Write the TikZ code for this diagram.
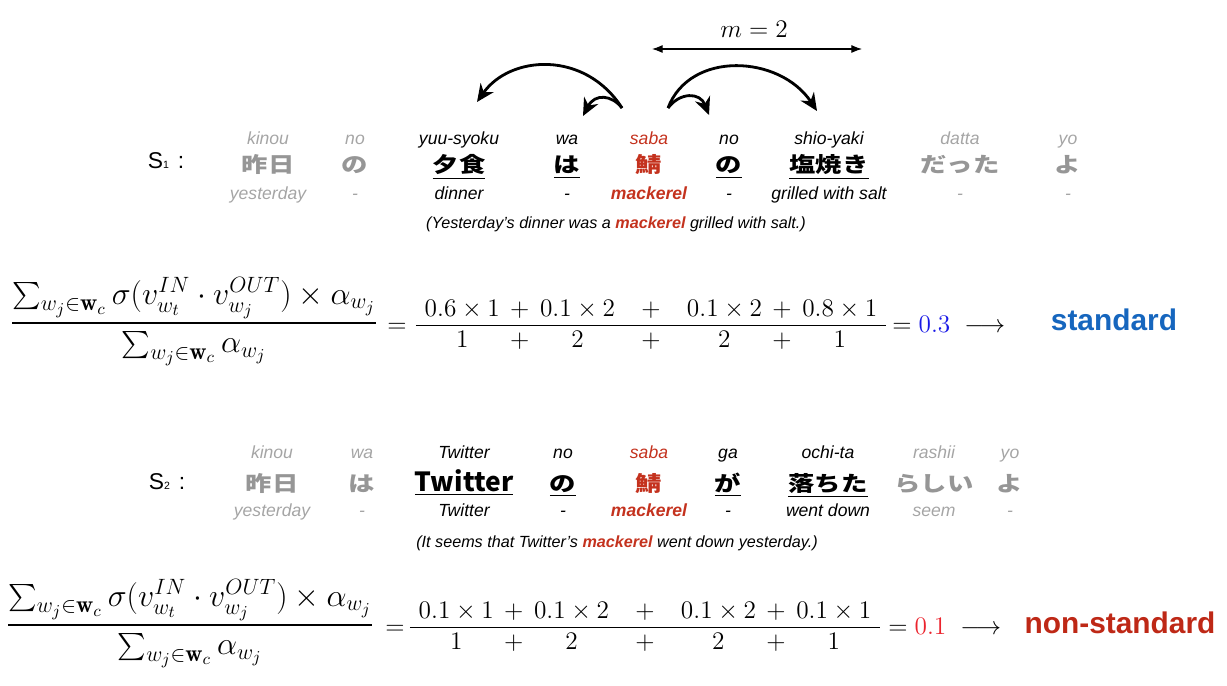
\documentclass[tikz,border=0pt]{standalone}
\usepackage{amsmath}
\usepackage{fontspec}
\setsansfont{Liberation Sans}
\newfontfamily\jp[FakeStretch=1.25]{Noto Sans CJK JP}
\newfontfamily\jplatin{Noto Sans CJK JP}
\definecolor{WordGray}{RGB}{150, 150, 150}
\definecolor{FadeGray}{RGB}{165, 165, 165}
\definecolor{SabaRed}{RGB}{196, 50, 30}
\definecolor{StdBlue}{RGB}{22, 102, 190}
\definecolor{NonRed}{RGB}{190, 40, 22}
\definecolor{ValBlue}{RGB}{25, 25, 230}
\definecolor{ValRed}{RGB}{235, 35, 45}
\usetikzlibrary{arrows.meta}
\newcommand{\wsum}{\mathop{\vcenter{\hbox{\scalebox{0.85}{$\textstyle\sum$}}}}\nolimits}

\begin{document}
\begin{tikzpicture}[x=0.02cm, y=-0.02cm,
    every node/.style={inner sep=0pt, anchor=base},
    roma/.style={font=\sffamily\itshape\fontsize{10}{12}\selectfont},
    word/.style={font=\jp\bfseries\fontsize{12}{14}\selectfont},
    bigword/.style={font=\jplatin\bfseries\fontsize{15}{17}\selectfont},
    faded/.style={text=FadeGray},
    fadedword/.style={text=WordGray},
    key/.style={text=SabaRed},
    trans/.style={font=\sffamily\itshape\fontsize{9.2}{11}\selectfont},
    label/.style={font=\sffamily\fontsize{13}{15}\selectfont},
    lhs/.style={font=\fontsize{18.5}{22}\selectfont},
    rhs/.style={font=\fontsize{14.5}{17.5}\selectfont},
    val/.style={font=\fontsize{15.5}{18}\selectfont, anchor=base west},
    verdict/.style={font=\sffamily\bfseries\fontsize{17}{20}\selectfont},
    arc/.style={line width=1.6pt, -{Stealth[length=10pt, width=9pt]}},
    span/.style={line width=0.6pt, {Latex[length=6pt, width=4.5pt]}-{Latex[length=6pt, width=4.5pt]}}]
    \useasboundingbox (0,0) rectangle (1227,686);

    % sentence 1
    \node[label] (s1) at (166,168) {S{\fontsize{6}{6}\selectfont 1}\hspace{5pt}:};
    \node[roma, faded] (r11) at (268,145) {kinou};
    \node[roma, faded] (r12) at (355,145) {no};
    \node[roma] (r13) at (459,145) {yuu-syoku};
    \node[roma] (r14) at (567,145) {wa};
    \node[roma, key] (r15) at (649,145) {saba};
    \node[roma] (r16) at (729,145) {no};
    \node[roma] (r17) at (829,145) {shio-yaki};
    \node[roma, faded] (r18) at (960,145) {datta};
    \node[roma, faded] (r19) at (1068,145) {yo};

    \node[word, fadedword] (k11) at (268,173) {昨日};
    \node[word, fadedword] (k12) at (355,173) {の};
    \node[word] (k13) at (459,173) {\underline{夕食}};
    \node[word] (k14) at (567,173) {\underline{は}};
    \node[word, key] (k15) at (649,173) {鯖};
    \node[word] (k16) at (729,173) {\underline{の}};
    \node[word] (k17) at (829,173) {\underline{塩焼き}};
    \node[word, fadedword] (k18) at (960,173) {だった};
    \node[word, fadedword] (k19) at (1068,173) {よ};

    \node[roma, faded] (g11) at (268,199) {yesterday};
    \node[roma, faded] (g12) at (355,199) {-};
    \node[roma] (g13) at (459,199) {dinner};
    \node[roma] (g14) at (567,199) {-};
    \node[roma, key] (g15) at (649,199) {\bfseries mackerel};
    \node[roma] (g16) at (729,199) {-};
    \node[roma] (g17) at (829,199) {grilled with salt};
    \node[roma, faded] (g18) at (960,199) {-};
    \node[roma, faded] (g19) at (1068,199) {-};

    \node[trans] (t1) at (616,228) {(Yesterday's dinner was a \textcolor{SabaRed}{\bfseries mackerel} grilled with salt.)};

    % context window
    \node[font=\fontsize{15}{18}\selectfont] (win) at (754,38) {$m=2$};
    \draw[span] ([shift={(-102,11)}]win.base) -- ([shift={(108,11)}]win.base);
    \draw[arc] ([shift={(-27,-37)}]r15.base) .. controls +(-37,-58) and +(33,-47) .. ([shift={(18,-43)}]r13.base);
    \draw[arc] ([shift={(-27,-37)}]r15.base) .. controls +(-10,-13) and +(12,-23) .. ([shift={(16,-29)}]r14.base);
    \draw[arc] ([shift={(19,-37)}]r15.base) .. controls +(12,-16) and +(-9,-23) .. ([shift={(-20,-30)}]r16.base);
    \draw[arc] ([shift={(19,-37)}]r15.base) .. controls +(22,-58) and +(-37,-56) .. ([shift={(-12,-34)}]r17.base);

    % score 1
    \node[lhs] (lhs1) at (194,331) {\scalebox{1.05}{$\displaystyle\frac{\wsum_{w_j\in\mathbf{w}_c}\sigma(v^{IN}_{w_t}\cdot v^{OUT}_{w_j})\times\alpha_{w_j}}{\wsum_{w_j\in\mathbf{w}_c}\alpha_{w_j}}$}};
    \node[rhs] (eq1) at (397,332) {$=$};
    \node[rhs] (rhs1) at (651,332) {$\begin{array}{c@{\hspace{6pt}}c@{\hspace{6pt}}c@{\hspace{15pt}}c@{\hspace{15pt}}c@{\hspace{6pt}}c@{\hspace{6pt}}c}
        0.6\times 1 & + & 0.1\times 2 & + & 0.1\times 2 & + & 0.8\times 1\\ \hline
        1 & + & 2 & + & 2 & + & 1
      \end{array}$};
    \node[val] (val1) at (892,332) {$={\color{ValBlue}0.3}\;\longrightarrow$};
    \node[verdict, text=StdBlue] (res1) at (1114,330) {standard};

    % sentence 2
    \node[label] (s2) at (167,489) {S{\fontsize{6}{6}\selectfont 2}\hspace{5pt}:};
    \node[roma, faded] (r21) at (272,458) {kinou};
    \node[roma, faded] (r22) at (362,458) {wa};
    \node[roma] (r23) at (464,458) {Twitter};
    \node[roma] (r24) at (563,458) {no};
    \node[roma, key] (r25) at (649,458) {saba};
    \node[roma] (r26) at (728,458) {ga};
    \node[roma] (r27) at (828,458) {ochi-ta};
    \node[roma, faded] (r28) at (934,458) {rashii};
    \node[roma, faded] (r29) at (1010,458) {yo};

    \node[word, fadedword] (k21) at (272,491) {昨日};
    \node[word, fadedword] (k22) at (362,491) {は};
    \node[bigword] (k23) at (464,491) {\underline{Twitter}};
    \node[word] (k24) at (563,491) {\underline{の}};
    \node[word, key] (k25) at (649,491) {鯖};
    \node[word] (k26) at (728,491) {\underline{が}};
    \node[word] (k27) at (828,491) {\underline{落ちた}};
    \node[word, fadedword] (k28) at (934,491) {らしい};
    \node[word, fadedword] (k29) at (1010,491) {よ};

    \node[roma, faded] (g21) at (272,516) {yesterday};
    \node[roma, faded] (g22) at (362,516) {-};
    \node[roma] (g23) at (464,516) {Twitter};
    \node[roma] (g24) at (563,516) {-};
    \node[roma, key] (g25) at (649,516) {\bfseries mackerel};
    \node[roma] (g26) at (728,516) {-};
    \node[roma] (g27) at (828,516) {went down};
    \node[roma, faded] (g28) at (934,516) {seem};
    \node[roma, faded] (g29) at (1010,516) {-};

    \node[trans] (t2) at (617,547) {(It seems that Twitter's \textcolor{SabaRed}{\bfseries mackerel} went down yesterday.)};

    % score 2
    \node[lhs] (lhs2) at (190,633) {\scalebox{1.05}{$\displaystyle\frac{\wsum_{w_j\in\mathbf{w}_c}\sigma(v^{IN}_{w_t}\cdot v^{OUT}_{w_j})\times\alpha_{w_j}}{\wsum_{w_j\in\mathbf{w}_c}\alpha_{w_j}}$}};
    \node[rhs] (eq2) at (395,634) {$=$};
    \node[rhs] (rhs2) at (645,634) {$\begin{array}{c@{\hspace{6pt}}c@{\hspace{6pt}}c@{\hspace{15pt}}c@{\hspace{15pt}}c@{\hspace{6pt}}c@{\hspace{6pt}}c}
        0.1\times 1 & + & 0.1\times 2 & + & 0.1\times 2 & + & 0.1\times 1\\ \hline
        1 & + & 2 & + & 2 & + & 1
      \end{array}$};
    \node[val] (val2) at (888,634) {$={\color{ValRed}0.1}\;\longrightarrow$};
    \node[verdict, text=NonRed] (res2) at (1120,633) {non-standard};
\end{tikzpicture}
\end{document}
